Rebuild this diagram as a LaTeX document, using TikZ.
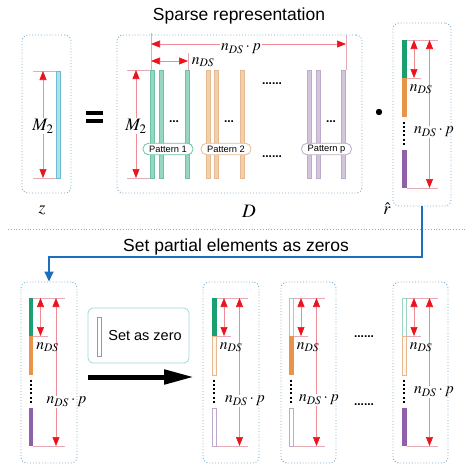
\documentclass[tikz,border=0pt]{standalone}
\usepackage{mathptmx}
\usepackage{fontspec}
\setmainfont{Liberation Sans}
\usetikzlibrary{arrows.meta}
\definecolor{boxc}{RGB}{120,170,200}
\definecolor{legc}{RGB}{160,215,220}
\definecolor{redc}{RGB}{235,20,30}
\definecolor{shaftc}{RGB}{240,140,150}
\definecolor{guidec}{RGB}{230,170,180}
\definecolor{gfull}{RGB}{26,160,112}
\definecolor{ofull}{RGB}{232,149,74}
\definecolor{pfull}{RGB}{144,96,168}
\definecolor{glite}{RGB}{150,215,195}
\definecolor{gline}{RGB}{110,195,165}
\definecolor{olite}{RGB}{242,208,172}
\definecolor{oline}{RGB}{230,185,145}
\definecolor{plite}{RGB}{212,198,218}
\definecolor{pline}{RGB}{190,170,202}
\definecolor{zlite}{RGB}{170,225,235}
\definecolor{zline}{RGB}{110,190,210}
\definecolor{bluec}{RGB}{30,110,190}
\tikzset{
  panel/.style={draw=boxc, dotted, line width=0.9pt, rounded corners=6pt, inner sep=0pt},
  legendbox/.style={draw=legc, line width=0.8pt, rounded corners=5pt, inner sep=0pt},
  guide/.style={draw=guidec, line width=0.6pt},
  dimar/.style={draw=shaftc, line width=0.6pt,
     {Triangle[length=9pt,width=7pt,color=redc]}-{Triangle[length=9pt,width=7pt,color=redc]}},
  lab/.style={inner sep=1pt, font=\fontsize{15.5}{16}\selectfont},
  bigl/.style={inner sep=1pt, font=\fontsize{17.5}{18}\selectfont},
  title/.style={inner sep=0pt, font=\fontsize{17.5}{18}\selectfont},
  pill/.style={draw, line width=0.8pt, rounded corners=5.5pt, fill=white, minimum width=50pt,
     minimum height=11.5pt, inner sep=0pt, font=\fontsize{9.3}{10}\selectfont},
  vdots/.style={draw=black, line width=2.2pt, dash pattern=on 2pt off 2.3pt},
  hdots/.style={inner sep=0pt, font=\bfseries\fontsize{12}{12}\selectfont},
  gF/.style={fill=gfull},
  oF/.style={fill=ofull},
  pF/.style={fill=pfull},
  gE/.style={draw=gline!70, fill=white, line width=0.5pt},
  oE/.style={draw=oline, fill=orange!6, line width=0.5pt},
  pE/.style={draw=pline, fill=white, line width=0.5pt},
  dbar/.style={line width=0.5pt},
}
% #1 xL, #2 ytop, #3 #4 #5 segment styles, #6 label x offset, #7 label y offset
\newcommand\vcolumn[7]{%
  \begin{scope}[shift={(#1,#2)}]
    \draw[guide] (4.5,0) -- (36,0);
    \draw[guide] (4.5,38) -- (19,38);
    \draw[guide] (4.5,148) -- (36,148);
    \path[#3] (0,0) rectangle (4.5,38);
    \path[#4] (0,38) rectangle (4.5,77);
    \draw[vdots] (2.25,81.5) -- (2.25,106);
    \path[#5] (0,110) rectangle (4.5,148);
    \draw[dimar] (12,0) -- (12,38);
    \draw[dimar] (27.5,0) -- (27.5,148);
    \node[lab] at (19,49) {$n_{DS}$};
    \node[lab, fill=white] at (#6,#7) {$n_{DS}\cdot p$};
  \end{scope}}
\begin{document}
\begin{tikzpicture}[x=1pt,y=-1pt]
\useasboundingbox (0,0) rectangle (474,474);
\fill[white] (0,0) rectangle (474,474);

\node[title] (t1) at (239,16) {Sparse representation};

% ---- z ----
\draw[guide] (33,71) -- (60,71);
\draw[guide] (33,178) -- (60,178);
\draw[dbar, draw=zline, fill=zlite] (56,71) rectangle (60,178);
\draw[dimar] (43,71) -- (43,178);
\node[bigl, fill=white] at (43,126) {$M_2$};
\node[bigl] (zl) at (42,210) {$z$};

% = sign
\fill[black] (86,110.5) rectangle (103,114.5);
\fill[black] (86,118.5) rectangle (103,122.5);

% ---- D ----
\draw[guide] (151,33) -- (151,70);
\draw[guide] (346,35) -- (346,70);
\draw[guide] (188,53) -- (188,70);
\draw[dimar] (151,44) -- (346,44);
\node[lab, fill=white] at (241,49) {$n_{DS}\cdot p$};
\draw[dimar] (151,61) -- (188,61);
\node[lab] at (203,62) {$n_{DS}$};
\draw[guide] (127,70) -- (151,70);
\draw[guide] (127,178) -- (151,178);
\draw[dimar] (136,70) -- (136,178);
\node[bigl, fill=white] at (136,126) {$M_2$};

\foreach \x in {150.5,159.5,185}
  \draw[dbar, draw=gline, fill=glite] (\x,70) rectangle (\x+4,178);
\foreach \x in {206,214.5,240}
  \draw[dbar, draw=oline, fill=olite] (\x,70) rectangle (\x+4,178);
\foreach \x in {307,316,341}
  \draw[dbar, draw=pline, fill=plite] (\x,70) rectangle (\x+4,178);
\node[hdots] at (174,122) {...};
\node[hdots] at (229,122) {...};
\node[hdots] at (331,122) {...};
\node[hdots] at (272,84) {......};
\node[hdots] at (272,157) {......};
\node[pill, draw=gline] (pat1) at (168,149) {Pattern 1};
\node[pill, draw=oline] (pat2) at (226,149) {Pattern 2};
\node[pill, draw=pline] (patp) at (326.5,149) {Pattern p};
\node[bigl, font=\fontsize{19}{19}\selectfont] (dl) at (249,211) {$D$};

% dot product
\fill[black] (379,112) circle (3.2);

% ---- r hat ----
\vcolumn{402}{40}{gF}{oF}{pF}{32}{92}
\node[bigl] (rl) at (387,209) {$\hat{r}$};

% separator
\draw[gray!70, dotted, line width=0.8pt] (8,229) -- (467,229);

\node[title] (t2) at (236,247) {Set partial elements as zeros};

% ---- bottom panels ----
\vcolumn{28.5}{298}{gF}{oF}{pF}{38}{104}
\vcolumn{212}{298}{gF}{oE}{pE}{33}{103}
\vcolumn{289}{298}{gE}{oF}{pE}{30}{102}
\vcolumn{402}{298}{gE}{oE}{pF}{32}{94}
\node[hdots] at (364,337) {......};
\node[hdots] at (364,405) {......};

% legend
\node[legendbox, minimum width=101pt, minimum height=55pt] (leg) at (138.5,335.5) {};
\draw[draw=gray!80, line width=0.7pt, fill=white] (97,317) rectangle (101,356);
\node[inner sep=0pt, font=\fontsize{14.5}{15}\selectfont] (legt) at (145,336) {Set as zero};

% big arrow
\coordinate (ba) at (88,377);
\coordinate (bb) at (194,377);
\draw[line width=5pt, -{Triangle[length=30pt,width=14pt]}] (ba) -- (bb);

% boxes
\node[panel, minimum width=49pt, minimum height=158pt] (zbox) at (46.5,114) {};
\node[panel, minimum width=245pt, minimum height=158pt] (dbox) at (239.5,114) {};
\node[panel, minimum width=58pt, minimum height=183pt] (rbox) at (422,114.5) {};
\node[panel, minimum width=56pt, minimum height=181pt] (p1) at (49,372.5) {};
\node[panel, minimum width=56pt, minimum height=181pt] (p2) at (231,372.5) {};
\node[panel, minimum width=55pt, minimum height=181pt] (p3) at (308.5,372.5) {};
\node[panel, minimum width=55pt, minimum height=181pt] (p4) at (420.5,372.5) {};

% blue connector
\coordinate (bend) at (0,257);
\draw[bluec, line width=1.6pt, -{Triangle[length=10pt,width=9pt]}]
  (rbox.south) -- (rbox.south |- bend) -| (p1.north);
\end{tikzpicture}
\end{document}
